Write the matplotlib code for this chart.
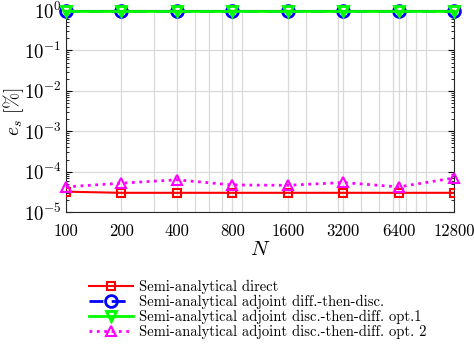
import matplotlib
matplotlib.use("Agg")
import matplotlib.pyplot as plt
import matplotlib.ticker as mticker
import numpy as np

plt.rcParams['font.family'] = ['cmr10', 'DejaVu Serif']
plt.rcParams['mathtext.fontset'] = 'cm'
plt.rcParams['axes.formatter.use_mathtext'] = True

N = [100, 200, 400, 800, 1600, 3200, 6400, 12800]
direct = [3.2e-5, 3.0e-5, 3.0e-5, 3.0e-5, 3.0e-5, 3.0e-5, 3.0e-5, 3.0e-5]
adj_dtd = [0.95, 0.95, 0.95, 0.95, 0.95, 0.95, 0.95, 0.95]
adj_opt1 = [0.96, 0.96, 0.96, 0.96, 0.96, 0.96, 0.96, 0.96]
adj_opt2 = [4.2e-5, 5.2e-5, 6.3e-5, 4.7e-5, 4.6e-5, 5.4e-5, 4.2e-5, 7.0e-5]
labels = ["Semi-analytical direct",
          "Semi-analytical adjoint diff.-then-disc.",
          "Semi-analytical adjoint disc.-then-diff. opt.1",
          "Semi-analytical adjoint disc.-then-diff. opt. 2"]
xticklabels = ["100", "200", "400", "800", "1600", "3200", "6400", "12800"]

fig = plt.figure(figsize=(4.74, 3.46), dpi=100)
ax = fig.add_axes([0.139, 0.387, 0.819, 0.584])

ax.plot(N, direct, color='red', lw=1.5, marker='s', ms=6, mfc='none', mew=1.5, label=labels[0], zorder=3)
ax.plot(N, adj_dtd, color='#0000ff', lw=2, ls='--', dashes=(5, 3), marker='o', ms=8.5, mfc='none', mew=2, label=labels[1], zorder=3, clip_on=False)
ax.plot(N, adj_opt1, color='#00ff00', lw=2, marker='v', ms=7.5, mfc='none', mew=2, label=labels[2], zorder=4, clip_on=False)
ax.plot(N, adj_opt2, color='#ff00ff', lw=2, ls=':', marker='^', ms=7.5, mfc='none', mew=1.5, label=labels[3], zorder=3, clip_on=False)

ax.set_xscale('log')
ax.set_yscale('log')
ax.set_xlim(100, 12800)
ax.set_ylim(1e-5, 1e0)
ax.set_xticks(N)
ax.set_xticklabels(xticklabels)
ax.xaxis.set_minor_locator(mticker.LogLocator(base=10, subs=np.arange(2, 10), numticks=20))
ax.xaxis.set_minor_formatter(mticker.NullFormatter())
ax.yaxis.set_major_locator(mticker.LogLocator(base=10, numticks=10))
ax.yaxis.set_minor_locator(mticker.LogLocator(base=10, subs=np.arange(2, 10), numticks=20))
ax.yaxis.set_minor_formatter(mticker.NullFormatter())

ax.grid(True, which='major', color='#d9d9d9', lw=0.9)
ax.grid(True, which='minor', axis='x', color='#d9d9d9', lw=0.9)
ax.set_axisbelow(True)

ax.tick_params(which='both', direction='in', top=True, right=True, labelsize=12)
ax.tick_params(axis='y', which='major', labelsize=13.5, pad=3)
ax.tick_params(which='major', length=4)
ax.tick_params(which='minor', length=2)
ax.tick_params(axis='x', which='minor', length=0)
ax.tick_params(axis='x', which='major', length=0, pad=8)
for s in ax.spines.values():
    s.set_color('#262626')
    s.set_linewidth(0.8)

ax.set_xlabel(r'$N$', fontsize=15, labelpad=2)
ax.set_ylabel(r'$e_s\ [\%]$', fontsize=14)
ax.yaxis.set_label_coords(-0.102, 0.5)

fig.legend(loc='lower left', bbox_to_anchor=(0.17, -0.005), frameon=False, fontsize=10.5,
           handlelength=3.0, handletextpad=0.4, labelspacing=0.05, borderaxespad=0.2)

fig.savefig('out.png', dpi=100)
